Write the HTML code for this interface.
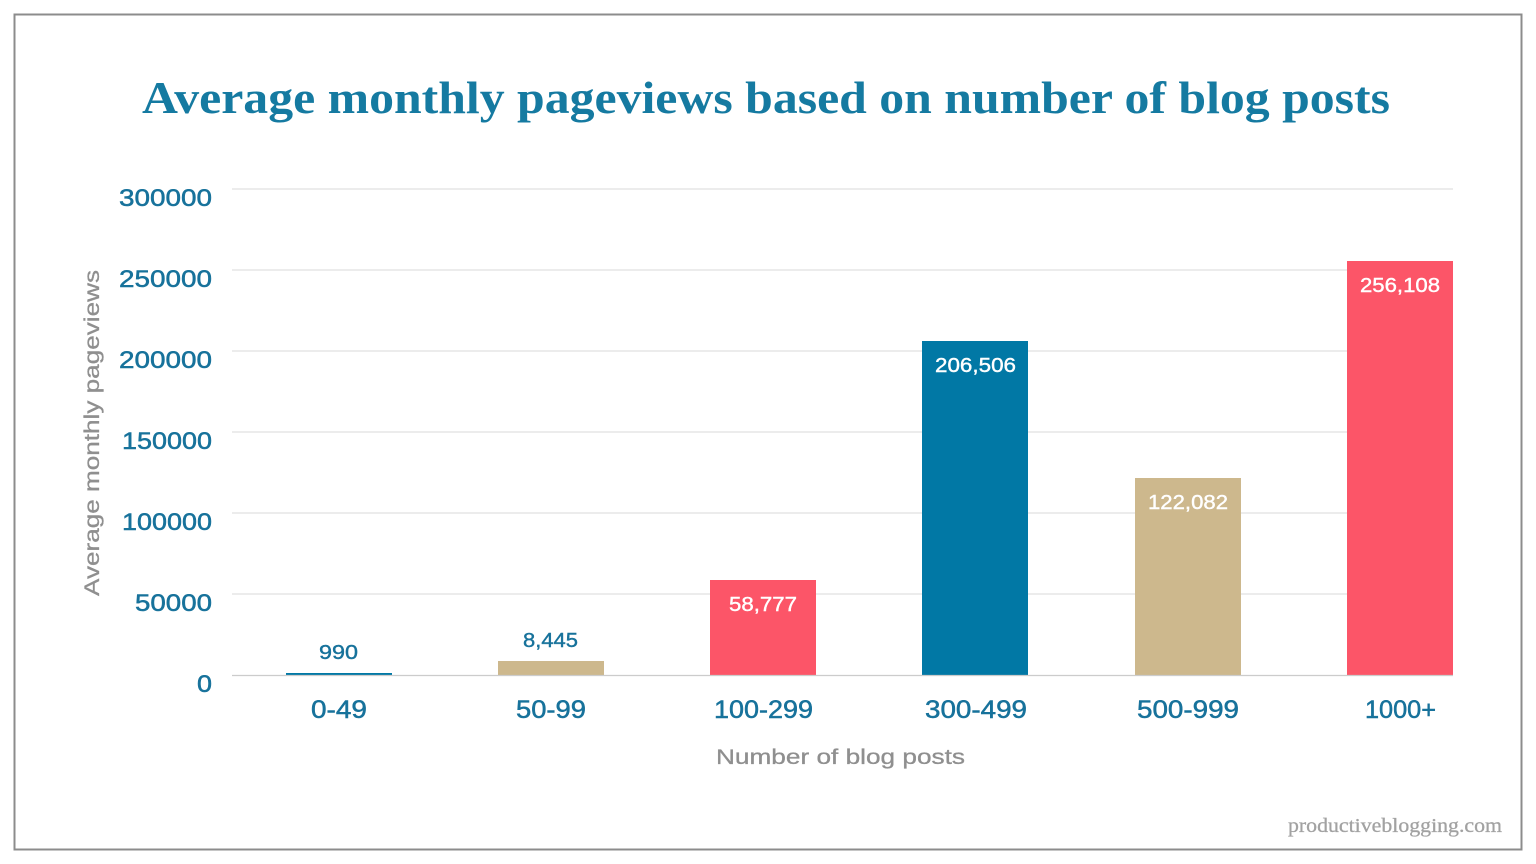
<!DOCTYPE html>
<html>
<head>
<meta charset="utf-8">
<style>
  html, body { margin:0; padding:0; background:#ffffff; }
  body { width:1536px; height:864px; overflow:hidden; }
  svg { display:block; }
</style>
</head>
<body>
<svg width="1536" height="864" viewBox="0 0 1536 864" xmlns="http://www.w3.org/2000/svg">
  <rect x="0" y="0" width="1536" height="864" fill="#ffffff"/>
  <rect x="14.5" y="14.5" width="1507" height="835" fill="#ffffff" stroke="#8c8c8c" stroke-width="2"/>

  <!-- Title -->
  <text x="142" y="113" font-family="Liberation Serif, serif" font-weight="bold" font-size="46" fill="#157aa1" textLength="1248" lengthAdjust="spacingAndGlyphs">Average monthly pageviews based on number of blog posts</text>

  <!-- Gridlines -->
  <g stroke="#e0e0e0" stroke-width="1.2">
    <line x1="232" y1="189" x2="1453" y2="189"/>
    <line x1="232" y1="270" x2="1453" y2="270"/>
    <line x1="232" y1="351" x2="1453" y2="351"/>
    <line x1="232" y1="432" x2="1453" y2="432"/>
    <line x1="232" y1="513" x2="1453" y2="513"/>
    <line x1="232" y1="594" x2="1453" y2="594"/>
  </g>

  <!-- Y tick labels -->
  <g font-family="Liberation Sans, sans-serif" font-size="24" fill="#17729b" stroke="#17729b" stroke-width="0.5">
    <text x="119" y="206" textLength="93" lengthAdjust="spacingAndGlyphs">300000</text>
    <text x="119" y="287" textLength="93" lengthAdjust="spacingAndGlyphs">250000</text>
    <text x="119" y="368" textLength="93" lengthAdjust="spacingAndGlyphs">200000</text>
    <text x="122" y="449" textLength="90" lengthAdjust="spacingAndGlyphs">150000</text>
    <text x="122" y="530" textLength="90" lengthAdjust="spacingAndGlyphs">100000</text>
    <text x="135" y="611" textLength="77" lengthAdjust="spacingAndGlyphs">50000</text>
    <text x="197" y="692" textLength="15" lengthAdjust="spacingAndGlyphs">0</text>
  </g>

  <!-- Y axis title -->
  <text transform="translate(99,433) rotate(-90)" text-anchor="middle" font-family="Liberation Sans, sans-serif" font-size="21" fill="#8f8f8f" stroke="#8f8f8f" stroke-width="0.3" textLength="326" lengthAdjust="spacingAndGlyphs">Average monthly pageviews</text>

  <!-- Bars -->
  <rect x="286" y="673" width="106" height="2" fill="#0178a5"/>
  <rect x="498" y="661" width="106" height="14" fill="#cdb88d"/>
  <rect x="710" y="580" width="106" height="95" fill="#fc5568"/>
  <rect x="922" y="341" width="106" height="334" fill="#0178a5"/>
  <rect x="1135" y="478" width="106" height="197" fill="#cdb88d"/>
  <rect x="1347" y="261" width="106" height="414" fill="#fc5568"/>

  <!-- Baseline -->
  <line x1="232" y1="675.5" x2="1453" y2="675.5" stroke="#cccccc" stroke-width="1.2"/>

  <!-- Value labels -->
  <g font-family="Liberation Sans, sans-serif" font-size="20" stroke-width="0.4">
    <text x="319" y="659" fill="#17729b" stroke="#17729b" textLength="39" lengthAdjust="spacingAndGlyphs">990</text>
    <text x="523" y="647" fill="#17729b" stroke="#17729b" textLength="55" lengthAdjust="spacingAndGlyphs">8,445</text>
    <text x="729" y="611" fill="#ffffff" stroke="#ffffff" textLength="68" lengthAdjust="spacingAndGlyphs">58,777</text>
    <text x="935" y="372" fill="#ffffff" stroke="#ffffff" textLength="81" lengthAdjust="spacingAndGlyphs">206,506</text>
    <text x="1148" y="509" fill="#ffffff" stroke="#ffffff" textLength="80" lengthAdjust="spacingAndGlyphs">122,082</text>
    <text x="1360" y="292" fill="#ffffff" stroke="#ffffff" textLength="80" lengthAdjust="spacingAndGlyphs">256,108</text>
  </g>

  <!-- X tick labels -->
  <g font-family="Liberation Sans, sans-serif" font-size="25" fill="#17729b" stroke="#17729b" stroke-width="0.5">
    <text x="311" y="718" textLength="56" lengthAdjust="spacingAndGlyphs">0-49</text>
    <text x="516" y="718" textLength="70" lengthAdjust="spacingAndGlyphs">50-99</text>
    <text x="714" y="718" textLength="99" lengthAdjust="spacingAndGlyphs">100-299</text>
    <text x="925" y="718" textLength="102" lengthAdjust="spacingAndGlyphs">300-499</text>
    <text x="1137" y="718" textLength="102" lengthAdjust="spacingAndGlyphs">500-999</text>
    <text x="1365" y="718" textLength="71" lengthAdjust="spacingAndGlyphs">1000+</text>
  </g>

  <!-- X axis title -->
  <text x="716" y="764" font-family="Liberation Sans, sans-serif" font-size="21" fill="#8f8f8f" stroke="#8f8f8f" stroke-width="0.3" textLength="249" lengthAdjust="spacingAndGlyphs">Number of blog posts</text>

  <!-- Watermark -->
  <text x="1288" y="832" font-family="Liberation Serif, serif" font-size="20" fill="#a2a2a2" stroke="#a2a2a2" stroke-width="0.3" textLength="214" lengthAdjust="spacingAndGlyphs">productiveblogging.com</text>
</svg>
</body>
</html>
